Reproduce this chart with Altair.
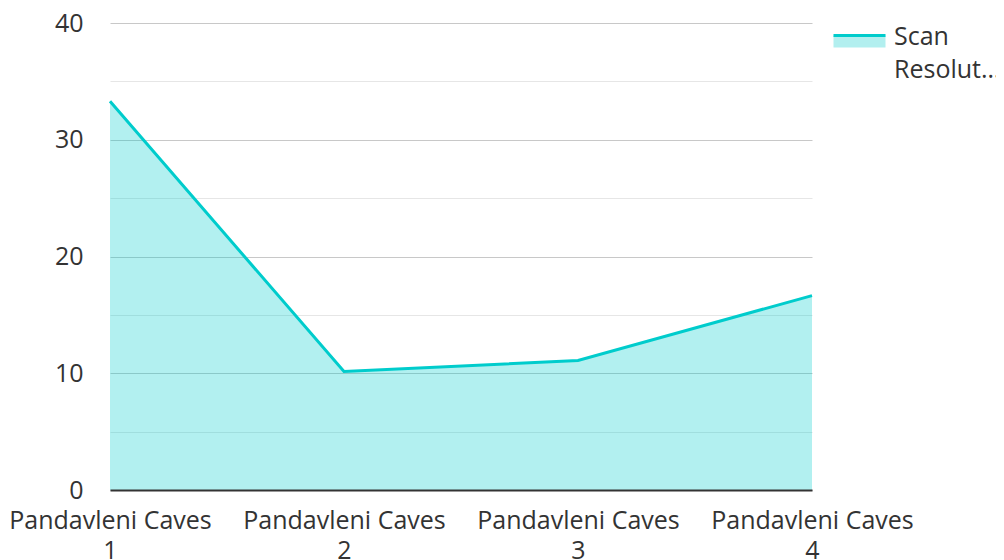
import altair as alt
import pandas as pd

categories = ["Pandavleni Caves 1", "Pandavleni Caves 2", "Pandavleni Caves 3", "Pandavleni Caves 4"]
values = [33.3, 10.15, 11.1, 16.65]
series = ["Scan Resolution"] * 4

df = pd.DataFrame({"site": categories, "value": values, "series": series})

FONT = "Open Sans"
TEAL = "#00cccc"
FS = 25

x_enc = alt.X(
    "site:N",
    sort=categories,
    scale=alt.Scale(type="point", padding=0),
    axis=alt.Axis(
        title=None,
        labelAngle=0,
        labelFontSize=FS,
        labelColor="#333333",
        labelFont=FONT,
        labelExpr="[slice(datum.label, 0, 16), slice(datum.label, 17)]",
        labelLineHeight=30,
        labelPadding=18,
        labelLimit=260,
        labelOverlap=False,
        ticks=False,
        grid=False,
        domainColor="#333333",
        domainWidth=2,
        zindex=1,
    ),
)
y_enc = alt.Y(
    "value:Q",
    scale=alt.Scale(domain=[0, 40], nice=False),
    axis=alt.Axis(
        title=None,
        values=[0, 5, 10, 15, 20, 25, 30, 35, 40],
        labelExpr="datum.value % 10 === 0 ? datum.label : ''",
        labelFontSize=FS,
        labelColor="#333333",
        labelFont=FONT,
        labelPadding=27,
        ticks=False,
        domain=False,
        gridColor={"expr": "datum.value % 10 === 0 ? '#c8c8c8' : '#e6e6e6'"},
        gridWidth=1,
    ),
)

area = alt.Chart(df).mark_area(color=TEAL, opacity=0.3).encode(
    x=x_enc, y=y_enc,
)

line = alt.Chart(df).mark_line(strokeWidth=3).encode(
    x=x_enc,
    y=y_enc,
    color=alt.Color(
        "series:N",
        scale=alt.Scale(range=[TEAL]),
        legend=alt.Legend(
            title=None,
            orient="none",
            legendX=722,
            legendY=-26,
            symbolType="M-1,0.42 L1,0.42 L1,0.88 L-1,0.88 Z",
            symbolSize=2704,
            symbolFillColor="#b2efef",
            symbolStrokeWidth=3,
            symbolDash=[52, 200],
            symbolOpacity=1,
            labelFontSize=FS,
            labelFont=FONT,
            labelColor="#333333",
            labelExpr="split(datum.label, ' ')",
            labelLimit=110,
            labelOffset=7,
            labelBaseline="top",
        ),
    ),
)

chart = alt.layer(area, line).properties(
    width=702,
    height=467,
    autosize=alt.AutoSizeParams(type="none"),
    padding={"left": 102, "top": 15, "right": 184, "bottom": 70},
).configure(
    view={"stroke": None},
    style={"guide-label": {"lineHeight": 33}},
)

chart.save("out.html", embed_options={"renderer": "svg", "actions": False})
